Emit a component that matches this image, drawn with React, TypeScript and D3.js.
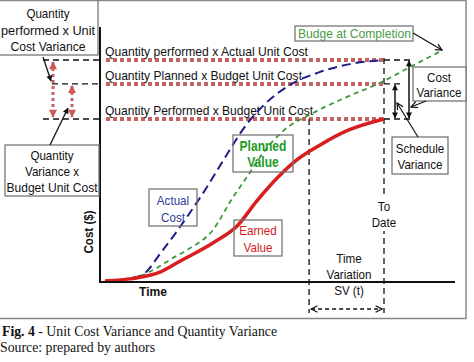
import React from 'react';
import * as d3 from 'd3';

// time axis 0..100, cost axis 0..100
const actualCost: [number, number][] = [
  [1.4, 0.4], [11.3, 2.3], [17.7, 12.3], [24.5, 25], [29.6, 35.4], [34.6, 46.5],
  [41.4, 60.8], [46.5, 68.5], [53.5, 75.8], [62, 80.8], [70.4, 83.8], [80, 85.4]
];
const plannedValue: [number, number][] = [
  [1.4, 0.4], [8.5, 1.2], [16, 5.4], [20, 8.8], [24.5, 12.3], [31.8, 20], [37.5, 32.7],
  [41.4, 40.4], [45.9, 49.6], [51.5, 58], [60, 65], [69.6, 71.2], [78.9, 76.6], [88.2, 83.3], [96.6, 89.2]
];
const earnedValue: [number, number][] = [
  [1.4, 0.4], [8.5, 1.2], [16.9, 3.8], [22.5, 8], [31.8, 15], [38.6, 21.5], [44.2, 31.2],
  [49.9, 40], [55, 46.5], [62, 52.7], [69.6, 58.2], [80, 62.7]
];

// cost levels (y) of the three reference lines
const levelValues = [85.4, 76.2, 62.7];
const levelLabels = [
  'Quantity performed x Actual Unit Cost',
  'Quantity Planned x Budget Unit Cost',
  'Quantity Performed x Budget Unit Cost'
];
const toDate = 80;
const svTime = 58.9;

const SANS = "'Liberation Sans', Arial, sans-serif";
const SERIF = "'Liberation Serif', 'Times New Roman', serif";

type Opt = {
  size?: number; weight?: string; fill?: string; anchor?: string;
  width?: number; squeeze?: number; family?: string;
};

function addText(parent: any, x: number, y: number, s: string, o: Opt = {}) {
  const t = parent.append('text')
    .attr('x', x).attr('y', y)
    .attr('font-family', o.family || SANS)
    .attr('font-size', o.size || 13.5)
    .attr('font-weight', o.weight || 'normal')
    .attr('fill', o.fill || '#111')
    .attr('text-anchor', o.anchor || 'middle')
    .text(s);
  const natural = (t.node() as SVGTextElement).getComputedTextLength();
  const target = o.width ?? natural * (o.squeeze ?? 0.86);
  t.attr('textLength', target).attr('lengthAdjust', 'spacingAndGlyphs');
  return t;
}

function box(parent: any, x: number, y: number, w: number, h: number, fill = 'none') {
  parent.append('rect').attr('x', x).attr('y', y).attr('width', w).attr('height', h)
    .attr('fill', fill).attr('stroke', '#777').attr('stroke-width', 1.3);
}

const App: React.FC = () => {
  const svgRef = React.useRef<SVGSVGElement>(null);

  React.useEffect(() => {
    if (!svgRef.current) return;
    document.body.style.margin = '0';
    const svg = d3.select(svgRef.current);
    svg.selectAll('*').remove();

    const x = d3.scaleLinear().domain([0, 100]).range([100, 455]);
    const y = d3.scaleLinear().domain([0, 100]).range([282, 22]);

    // markers
    const defs = svg.append('defs');
    const marker = (id: string, color: string, w: number, h: number, open = false) => {
      const m = defs.append('marker').attr('id', id).attr('viewBox', '0 0 10 10')
        .attr('refX', 9).attr('refY', 5).attr('markerWidth', w).attr('markerHeight', h)
        .attr('markerUnits', 'userSpaceOnUse').attr('orient', 'auto-start-reverse');
      if (open) {
        m.append('path').attr('d', 'M1,1 L9,5 L1,9').attr('fill', 'none')
          .attr('stroke', color).attr('stroke-width', 1.5);
      } else {
        m.append('path').attr('d', 'M0,0 L10,5 L0,10 z').attr('fill', color);
      }
    };
    marker('arRed', '#c85a5a', 9, 8);
    marker('arBlack', '#111', 8, 6);
    marker('arOpen', '#111', 8, 8, true);

    // frame
    svg.append('rect').attr('x', -1).attr('y', 0.5).attr('width', 467).attr('height', 318)
      .attr('fill', 'none').attr('stroke', '#888').attr('stroke-width', 1.5);

    const dotted = '#c46262';

    // reference levels
    levelValues.forEach((v, i) => {
      svg.append('line').attr('x1', 106).attr('x2', x(toDate))
        .attr('y1', y(v)).attr('y2', y(v))
        .attr('stroke', dotted).attr('stroke-width', 4).attr('stroke-dasharray', '4,3');
      addText(svg, 105, y(v) - 4, levelLabels[i], {
        anchor: 'start', width: [203, 197, 208][i]
      });
      // left black dashes
      svg.append('line').attr('x1', i === 1 ? 52 : 43).attr('x2', 100)
        .attr('y1', y(v)).attr('y2', y(v))
        .attr('stroke', '#111').attr('stroke-width', 1.4).attr('stroke-dasharray', '6,4');
      // right black dashes
      svg.append('line').attr('x1', x(toDate)).attr('x2', i === 1 ? 403 : 411)
        .attr('y1', y(v)).attr('y2', y(v))
        .attr('stroke', '#111').attr('stroke-width', 1.4).attr('stroke-dasharray', '6,4');
    });

    // left red variance arrows
    svg.append('line').attr('x1', 53).attr('x2', 53)
      .attr('y1', y(levelValues[0]) + 2).attr('y2', y(levelValues[2]) - 2)
      .attr('stroke', dotted).attr('stroke-width', 3).attr('stroke-dasharray', '3,3')
      .attr('marker-start', 'url(#arRed)').attr('marker-end', 'url(#arRed)');
    svg.append('line').attr('x1', 72).attr('x2', 72)
      .attr('y1', y(levelValues[1]) + 2).attr('y2', y(levelValues[2]) - 2)
      .attr('stroke', dotted).attr('stroke-width', 3).attr('stroke-dasharray', '3,3')
      .attr('marker-start', 'url(#arRed)').attr('marker-end', 'url(#arRed)');

    // vertical time lines
    svg.append('line').attr('x1', x(svTime)).attr('x2', x(svTime))
      .attr('y1', y(levelValues[2])).attr('y2', 313)
      .attr('stroke', '#111').attr('stroke-width', 1.3).attr('stroke-dasharray', '6,4');
    svg.append('line').attr('x1', x(toDate)).attr('x2', x(toDate))
      .attr('y1', y(levelValues[0]) - 2).attr('y2', 313)
      .attr('stroke', '#111').attr('stroke-width', 1.3).attr('stroke-dasharray', '6,4');

    // SV(t) arrow
    svg.append('line').attr('x1', x(svTime) + 2).attr('x2', x(toDate) - 2)
      .attr('y1', 309).attr('y2', 309)
      .attr('stroke', '#111').attr('stroke-width', 1.3).attr('stroke-dasharray', '4,3')
      .attr('marker-start', 'url(#arOpen)').attr('marker-end', 'url(#arOpen)');

    // right variance arrows
    svg.append('line').attr('x1', 409).attr('x2', 409)
      .attr('y1', y(levelValues[0]) + 1).attr('y2', y(levelValues[2]) - 1)
      .attr('stroke', '#111').attr('stroke-width', 1.5)
      .attr('marker-start', 'url(#arBlack)').attr('marker-end', 'url(#arBlack)');
    svg.append('line').attr('x1', 395).attr('x2', 395)
      .attr('y1', y(levelValues[1]) + 1).attr('y2', y(levelValues[2]) - 1)
      .attr('stroke', '#111').attr('stroke-width', 1.5)
      .attr('marker-start', 'url(#arBlack)').attr('marker-end', 'url(#arBlack)');

    // curves
    const line = d3.line<[number, number]>()
      .x(d => x(d[0])).y(d => y(d[1])).curve(d3.curveMonotoneX);
    svg.append('path').datum(plannedValue).attr('d', line).attr('fill', 'none')
      .attr('stroke', '#3d9a3d').attr('stroke-width', 1.8).attr('stroke-dasharray', '5,4');
    svg.append('path').datum(actualCost).attr('d', line).attr('fill', 'none')
      .attr('stroke', '#1c1c8a').attr('stroke-width', 2).attr('stroke-dasharray', '9,5');
    svg.append('path').datum(earnedValue).attr('d', line).attr('fill', 'none')
      .attr('stroke', '#d81e1e').attr('stroke-width', 3.5);

    // axes
    svg.append('line').attr('x1', x(0)).attr('x2', x(0)).attr('y1', 27).attr('y2', y(0) + 1)
      .attr('stroke', '#111').attr('stroke-width', 2);
    svg.append('line').attr('x1', x(0) - 1).attr('x2', x(100)).attr('y1', y(0)).attr('y2', y(0))
      .attr('stroke', '#111').attr('stroke-width', 2);
    addText(svg, 153, 296, 'Time', { weight: 'bold', width: 28 });
    addText(svg, 0, 0, 'Cost ($)', { weight: 'bold', size: 13, width: 43 })
      .attr('transform', 'translate(93,232) rotate(-90)');

    // top-left boxes
    box(svg, -1, -1, 99, 56);
    addText(svg, 48, 18, 'Quantity');
    addText(svg, 48, 35, 'performed x  Unit', { width: 94 });
    addText(svg, 48, 51, 'Cost Variance', { width: 75 });
    box(svg, 5, 145, 94, 51);
    addText(svg, 52, 160, 'Quantity');
    addText(svg, 52, 176, 'Variance x');
    addText(svg, 52, 192, 'Budget Unit Cost', { width: 91 });

    // pointers
    svg.append('line').attr('x1', 43).attr('y1', 57).attr('x2', 51).attr('y2', 81)
      .attr('stroke', '#111').attr('stroke-width', 1.3).attr('marker-end', 'url(#arBlack)');
    svg.append('line').attr('x1', 50).attr('y1', 145).attr('x2', 68).attr('y2', 108)
      .attr('stroke', '#111').attr('stroke-width', 1.3).attr('marker-end', 'url(#arBlack)');

    // curve labels
    box(svg, 149, 189, 48, 37);
    addText(svg, 173, 205, 'Actual', { fill: '#2e3a9e' });
    addText(svg, 173, 222, 'Cost', { fill: '#2e3a9e' });
    box(svg, 233, 135, 60, 37);
    addText(svg, 263, 151, 'Planned', { fill: '#1f9a1f', weight: 'bold', size: 14 });
    addText(svg, 263, 167, 'Value', { fill: '#1f9a1f', weight: 'bold', size: 14 });
    box(svg, 234, 220, 48, 36);
    addText(svg, 258, 235, 'Earned', { fill: '#d42020' });
    addText(svg, 258, 252, 'Value', { fill: '#d42020' });

    box(svg, 295, 26, 118, 15);
    addText(svg, 298, 38, 'Budge at Completion', { fill: '#4a9a4a', anchor: 'start', width: 113 });
    svg.append('line').attr('x1', 413).attr('y1', 33).attr('x2', x(plannedValue[plannedValue.length - 1][0]) - 1)
      .attr('y2', y(plannedValue[plannedValue.length - 1][1]))
      .attr('stroke', '#111').attr('stroke-width', 1.2).attr('marker-end', 'url(#arOpen)');

    box(svg, 413, 67, 53, 34, '#fff');
    addText(svg, 439, 82, 'Cost');
    addText(svg, 439, 97, 'Variance');
    svg.append('line').attr('x1', 426).attr('y1', 101).attr('x2', 411).attr('y2', 107)
      .attr('stroke', '#111').attr('stroke-width', 1.2).attr('marker-end', 'url(#arOpen)');

    box(svg, 392, 137, 56, 37, '#fff');
    addText(svg, 420, 153, 'Schedule');
    addText(svg, 420, 169, 'Variance');
    svg.append('line').attr('x1', 418).attr('y1', 137).attr('x2', 397).attr('y2', 103)
      .attr('stroke', '#111').attr('stroke-width', 1.2).attr('marker-end', 'url(#arOpen)');

    svg.append('rect').attr('x', x(toDate) - 14).attr('y', 197).attr('width', 28).attr('height', 34).attr('fill', '#fff');
    addText(svg, x(toDate), 211, 'To');
    addText(svg, x(toDate), 227, 'Date');

    addText(svg, 349, 263, 'Time');
    addText(svg, 349, 279, 'Variation');
    addText(svg, 349, 295, 'SV (t)');

    // caption
    const cap = svg.append('text').attr('x', 2).attr('y', 336)
      .attr('font-family', SERIF).attr('font-size', 14).attr('fill', '#111');
    cap.append('tspan').attr('font-weight', 'bold').text('Fig. 4');
    cap.append('tspan').text(' - Unit Cost Variance and Quantity Variance');
    cap.attr('textLength', 275).attr('lengthAdjust', 'spacingAndGlyphs');
    addText(svg, 0, 352, 'Source: prepared by authors', {
      family: SERIF, size: 14, anchor: 'start', width: 155
    });
  }, []);

  return <svg ref={svgRef} width={474} height={362} style={{ display: 'block', background: '#fff' }} />;
};

export default App;
